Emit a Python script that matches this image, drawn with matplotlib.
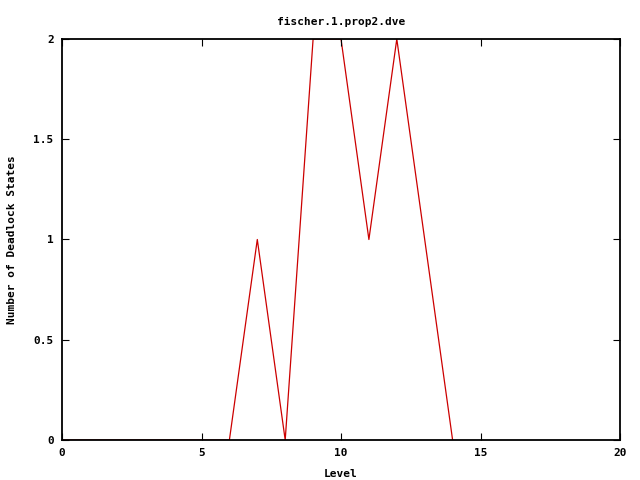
import matplotlib
matplotlib.use("Agg")
import matplotlib.pyplot as plt

levels = [0, 1, 2, 3, 4, 5, 6, 7, 8, 9, 10, 11, 12, 13, 14]
deadlocks = [0, 0, 0, 0, 0, 0, 0, 1, 0, 2, 2, 1, 2, 1, 0]

xticks = [0, 5, 10, 15, 20]
yticks = [0, 0.5, 1, 1.5, 2]
ylabels = ["0", "0.5", "1", "1.5", "2"]

plt.rcParams['font.family'] = ['DejaVu Sans Mono']
plt.rcParams['font.weight'] = 'bold'
plt.rcParams['font.size'] = 8

fig = plt.figure(figsize=(6.4, 4.8), dpi=100)
ax = fig.add_axes([62/640, 1 - 440/480, (620-62)/640, (440-39)/480])

ax.plot(levels, deadlocks, color='#cc0000', linewidth=0.9, zorder=1)

ax.set_xlim(0, 20)
ax.set_ylim(0, 2)
ax.set_xticks(xticks)
ax.set_yticks(yticks)
ax.set_yticklabels(ylabels)
ax.tick_params(direction='in', top=True, right=True, length=5, width=0.8, pad=6)
for s in ax.spines.values():
    s.set_linewidth(1.3)
    s.set_zorder(3)

ax.set_title("fischer.1.prop2.dve", fontsize=8, fontweight='bold', pad=10)
ax.set_xlabel("Level", fontsize=8, fontweight='bold', labelpad=8)
ax.set_ylabel("Number of Deadlock States", fontsize=8, fontweight='bold', labelpad=12)

fig.savefig("out.png", dpi=100)
